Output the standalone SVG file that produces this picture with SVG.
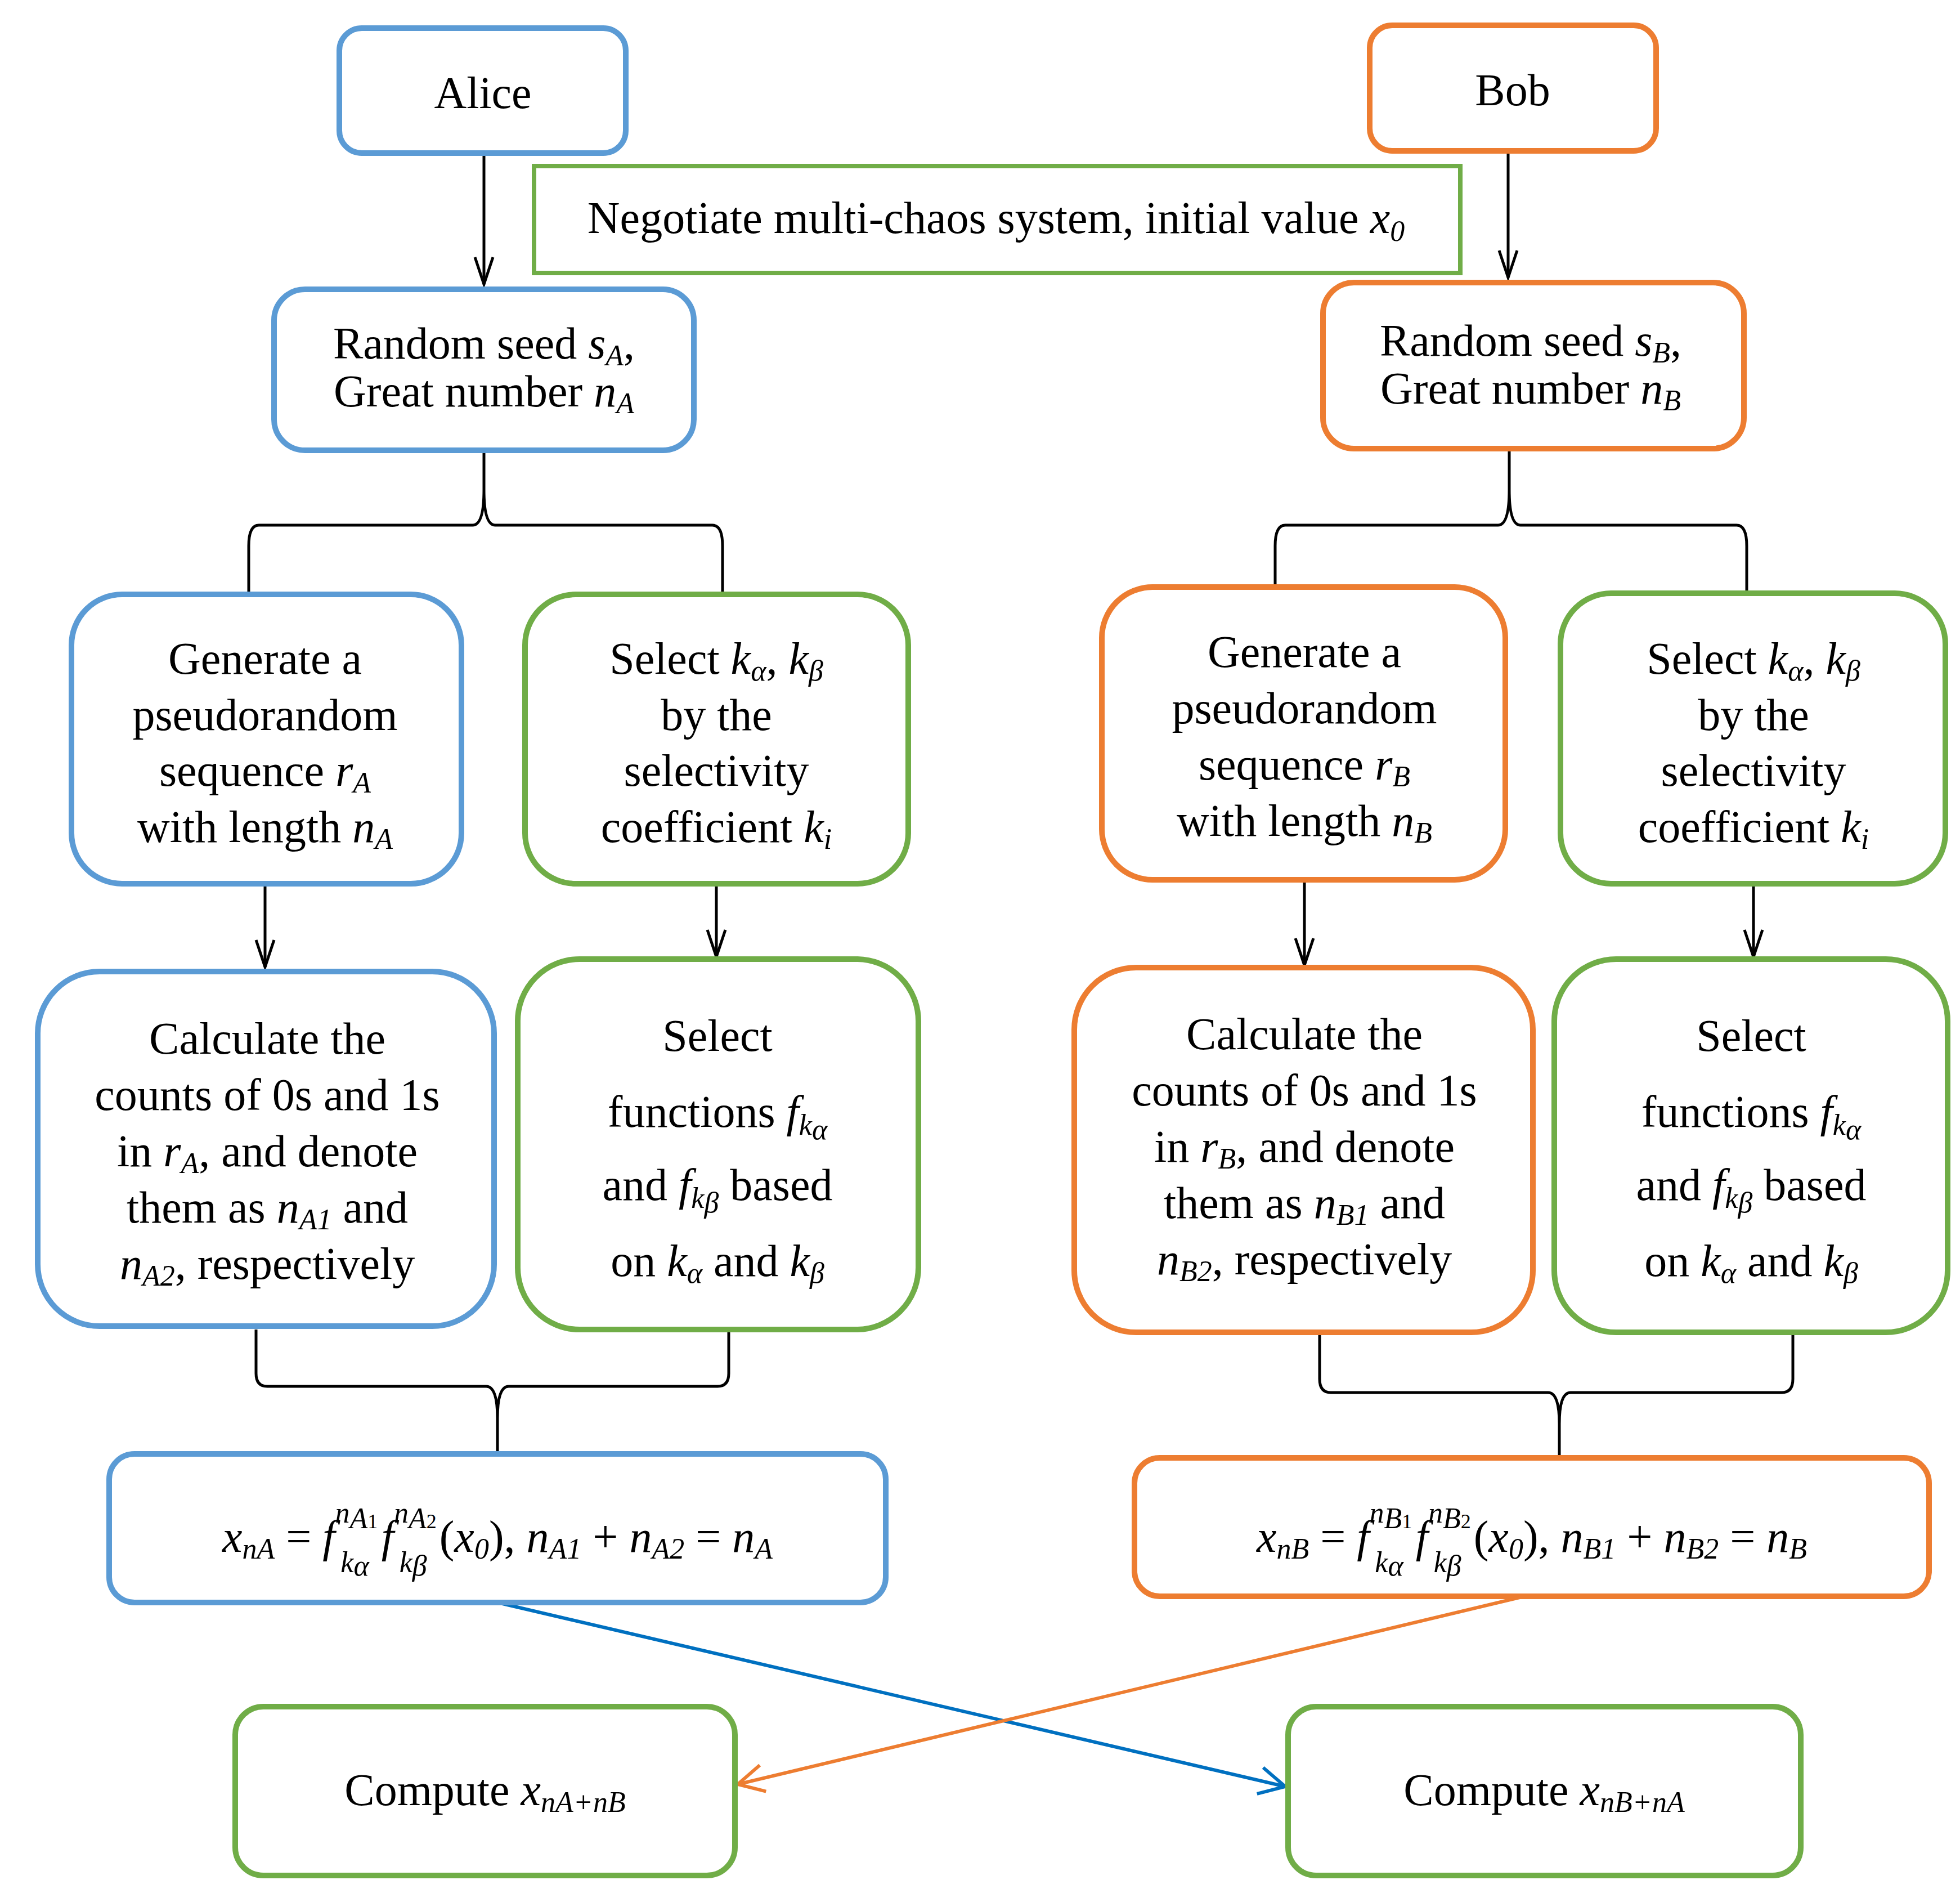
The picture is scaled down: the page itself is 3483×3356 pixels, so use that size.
<svg xmlns="http://www.w3.org/2000/svg" width="3483" height="3356" viewBox="0 0 3483 3356">
<style>
.b{fill:#fff;stroke:#5B9BD5;stroke-width:10}
.o{fill:#fff;stroke:#ED7D31;stroke-width:10}
.g{fill:#fff;stroke:#70AD47;stroke-width:10}
text{font-family:"Liberation Serif","DejaVu Serif",serif;font-size:80px;fill:#000;text-anchor:middle}
.i{font-style:italic}
.s{font-size:52px;font-style:italic}
.c{fill:none;stroke:#000;stroke-width:5}
</style>
<defs>
<marker id="ak" markerWidth="60" markerHeight="60" refX="30" refY="56" orient="0" markerUnits="userSpaceOnUse"><path d="M14 8 L30 56 L46 8" fill="none" stroke="#000" stroke-width="5"/></marker>
<marker id="ab" markerWidth="60" markerHeight="60" refX="50" refY="30" orient="auto" markerUnits="userSpaceOnUse"><path d="M4 6 L50 30 L4 54" fill="none" stroke="#0070C0" stroke-width="6"/></marker>
<marker id="ao" markerWidth="60" markerHeight="60" refX="50" refY="30" orient="auto" markerUnits="userSpaceOnUse"><path d="M4 6 L50 30 L4 54" fill="none" stroke="#ED7D31" stroke-width="6"/></marker>
</defs>
<g id="connectors">
<path class="c" d="M860 272 V505" marker-end="url(#ak)"/>
<path class="c" d="M2680 268 V493" marker-end="url(#ak)"/>
<path class="c" d="M471 1570 V1718" marker-end="url(#ak)"/>
<path class="c" d="M1273 1570 V1700" marker-end="url(#ak)"/>
<path class="c" d="M2318 1563 V1715" marker-end="url(#ak)"/>
<path class="c" d="M3116 1570 V1700" marker-end="url(#ak)"/>
<path class="c" d="M860 800 V870 Q860 933 840 933 H460 Q442 933 442 970 V1052 M860 870 Q860 933 880 933 H1266 Q1284 933 1284 970 V1052"/>
<path class="c" d="M2682 797 V870 Q2682 933 2662 933 H2284 Q2266 933 2266 970 V1043 M2682 870 Q2682 933 2702 933 H3086 Q3104 933 3104 970 V1054"/>
<path class="c" d="M455 2362 V2440 Q455 2463 475 2463 H864 Q884 2463 884 2520 V2583 M884 2520 Q884 2463 904 2463 H1275 Q1295 2463 1295 2440 V2362"/>
<path class="c" d="M2345 2367 V2450 Q2345 2474 2365 2474 H2751 Q2771 2474 2771 2530 V2590 M2771 2530 Q2771 2474 2791 2474 H3166 Q3186 2474 3186 2450 V2367"/>
<path d="M884 2847 L2284 3174" fill="none" stroke="#0070C0" stroke-width="6" marker-end="url(#ab)"/>
<path d="M2709 2836 L1311 3170" fill="none" stroke="#ED7D31" stroke-width="6" marker-end="url(#ao)"/>
</g>
<g id="alice"><rect class="b" x="603" y="50" width="509" height="222" rx="40"/><text x="858" y="192">Alice</text></g>
<g id="bob"><rect class="o" x="2434" y="45" width="509" height="223" rx="40"/><text x="2688" y="187">Bob</text></g>
<g id="negotiate"><rect x="949" y="295" width="1646" height="190" fill="#fff" stroke="#70AD47" stroke-width="8"/><text x="1770" y="414">Negotiate multi-chaos system, initial value  <tspan class="i">x</tspan><tspan class="s" font-style="normal" dy="14">0</tspan></text></g>
<g id="seedA"><rect class="b" x="487" y="514" width="746" height="286" rx="55"/>
<text x="860" y="637">Random seed  <tspan class="i">s</tspan><tspan class="s" dy="12">A</tspan><tspan dy="-12">,</tspan></text>
<text x="860" y="722">Great number  <tspan class="i">n</tspan><tspan class="s" dy="12">A</tspan></text></g>
<g id="seedB"><rect class="o" x="2351" y="502" width="748" height="295" rx="55"/>
<text x="2720" y="632">Random seed <tspan class="i">s</tspan><tspan class="s" dy="12">B</tspan><tspan dy="-12">,</tspan></text>
<text x="2720" y="717">Great number  <tspan class="i">n</tspan><tspan class="s" dy="12">B</tspan></text></g>
<g id="genA"><rect class="b" x="127" y="1056" width="693" height="514" rx="90"/>
<text x="471" y="1197">Generate a</text><text x="471" y="1297">pseudorandom</text>
<text x="471" y="1396">sequence <tspan class="i">r</tspan><tspan class="s" dy="12">A</tspan></text>
<text x="471" y="1496">with length  <tspan class="i">n</tspan><tspan class="s" dy="12">A</tspan></text></g>
<g id="selA"><rect class="g" x="933" y="1056" width="681" height="514" rx="90"/>
<text x="1273" y="1197">Select  <tspan class="i">k</tspan><tspan class="s" dy="12">α</tspan><tspan dy="-12">,  </tspan><tspan class="i">k</tspan><tspan class="s" dy="12">β</tspan></text>
<text x="1273" y="1297">by the</text><text x="1273" y="1396">selectivity</text>
<text x="1273" y="1496">coefficient  <tspan class="i">k</tspan><tspan class="s" dy="12">i</tspan></text></g>
<g id="genB"><rect class="o" x="1958" y="1043" width="717" height="520" rx="90"/>
<text x="2318" y="1185">Generate a</text><text x="2318" y="1285">pseudorandom</text>
<text x="2318" y="1385">sequence <tspan class="i">r</tspan><tspan class="s" dy="12">B</tspan></text>
<text x="2318" y="1485">with length  <tspan class="i">n</tspan><tspan class="s" dy="12">B</tspan></text></g>
<g id="selB"><rect class="g" x="2773" y="1054" width="684" height="516" rx="90"/>
<text x="3116" y="1197">Select  <tspan class="i">k</tspan><tspan class="s" dy="12">α</tspan><tspan dy="-12">,  </tspan><tspan class="i">k</tspan><tspan class="s" dy="12">β</tspan></text>
<text x="3116" y="1297">by the</text><text x="3116" y="1396">selectivity</text>
<text x="3116" y="1496">coefficient  <tspan class="i">k</tspan><tspan class="s" dy="12">i</tspan></text></g>
<g id="calcA"><rect class="b" x="67" y="1726" width="811" height="630" rx="110"/>
<text x="475" y="1872">Calculate the</text><text x="475" y="1972">counts of 0s and 1s</text>
<text x="475" y="2072">in  <tspan class="i">r</tspan><tspan class="s" dy="12">A</tspan><tspan dy="-12">, and denote</tspan></text>
<text x="475" y="2172">them as  <tspan class="i">n</tspan><tspan class="s" dy="12">A1</tspan><tspan dy="-12">  and</tspan></text>
<text x="475" y="2272"><tspan class="i">n</tspan><tspan class="s" dy="12">A2</tspan><tspan dy="-12">, respectively</tspan></text></g>
<g id="fnA"><rect class="g" x="920" y="1704" width="712" height="658" rx="110"/>
<text x="1275" y="1867">Select</text>
<text x="1275" y="2002">functions  <tspan class="i">f</tspan><tspan class="s" dy="14">k</tspan><tspan class="s" font-size="38" dy="8">α</tspan></text>
<text x="1275" y="2132">and  <tspan class="i">f</tspan><tspan class="s" dy="14">k</tspan><tspan class="s" font-size="38" dy="8">β</tspan><tspan dy="-22">  based</tspan></text>
<text x="1275" y="2267">on  <tspan class="i">k</tspan><tspan class="s" dy="12">α</tspan><tspan dy="-12">  and  </tspan><tspan class="i">k</tspan><tspan class="s" dy="12">β</tspan></text></g>
<g id="calcB"><rect class="o" x="1909" y="1719" width="815" height="648" rx="110"/>
<text x="2318" y="1864">Calculate the</text><text x="2318" y="1964">counts of 0s and 1s</text>
<text x="2318" y="2064">in  <tspan class="i">r</tspan><tspan class="s" dy="12">B</tspan><tspan dy="-12">, and denote</tspan></text>
<text x="2318" y="2164">them as  <tspan class="i">n</tspan><tspan class="s" dy="12">B1</tspan><tspan dy="-12">  and</tspan></text>
<text x="2318" y="2264"><tspan class="i">n</tspan><tspan class="s" dy="12">B2</tspan><tspan dy="-12">, respectively</tspan></text></g>
<g id="fnB"><rect class="g" x="2762" y="1704" width="699" height="663" rx="110"/>
<text x="3112" y="1867">Select</text>
<text x="3112" y="2002">functions  <tspan class="i">f</tspan><tspan class="s" dy="14">k</tspan><tspan class="s" font-size="38" dy="8">α</tspan></text>
<text x="3112" y="2132">and  <tspan class="i">f</tspan><tspan class="s" dy="14">k</tspan><tspan class="s" font-size="38" dy="8">β</tspan><tspan dy="-22">  based</tspan></text>
<text x="3112" y="2267">on  <tspan class="i">k</tspan><tspan class="s" dy="12">α</tspan><tspan dy="-12">  and  </tspan><tspan class="i">k</tspan><tspan class="s" dy="12">β</tspan></text></g>
<g id="formA"><rect class="b" x="194" y="2583" width="1380" height="264" rx="45"/>
<text x="884" y="2757"><tspan class="i">x</tspan><tspan class="s" dy="12">nA</tspan><tspan dy="-12"> = </tspan><tspan class="i">f</tspan><tspan class="s" dy="-52">n</tspan><tspan class="s" font-size="36" dy="10">A</tspan><tspan font-size="36">1</tspan><tspan class="s" dx="-66" dy="78">k</tspan><tspan class="s" font-size="36" dy="6">α</tspan><tspan class="i" dx="22" dy="-42">f</tspan><tspan class="s" dy="-52">n</tspan><tspan class="s" font-size="36" dy="10">A</tspan><tspan font-size="36">2</tspan><tspan class="s" dx="-66" dy="78">k</tspan><tspan class="s" font-size="36" dy="6">β</tspan><tspan dx="22" dy="-42">(</tspan><tspan class="i">x</tspan><tspan class="s" font-style="normal" dy="12">0</tspan><tspan dy="-12">),   </tspan><tspan class="i">n</tspan><tspan class="s" dy="12">A1</tspan><tspan dy="-12"> + </tspan><tspan class="i">n</tspan><tspan class="s" dy="12">A2</tspan><tspan dy="-12"> = </tspan><tspan class="i">n</tspan><tspan class="s" dy="12">A</tspan></text></g>
<g id="formB"><rect class="o" x="2016" y="2590" width="1412" height="246" rx="45"/>
<text x="2722" y="2757"><tspan class="i">x</tspan><tspan class="s" dy="12">nB</tspan><tspan dy="-12"> = </tspan><tspan class="i">f</tspan><tspan class="s" dy="-52">n</tspan><tspan class="s" font-size="36" dy="10">B</tspan><tspan font-size="36">1</tspan><tspan class="s" dx="-66" dy="78">k</tspan><tspan class="s" font-size="36" dy="6">α</tspan><tspan class="i" dx="22" dy="-42">f</tspan><tspan class="s" dy="-52">n</tspan><tspan class="s" font-size="36" dy="10">B</tspan><tspan font-size="36">2</tspan><tspan class="s" dx="-66" dy="78">k</tspan><tspan class="s" font-size="36" dy="6">β</tspan><tspan dx="22" dy="-42">(</tspan><tspan class="i">x</tspan><tspan class="s" font-style="normal" dy="12">0</tspan><tspan dy="-12">),   </tspan><tspan class="i">n</tspan><tspan class="s" dy="12">B1</tspan><tspan dy="-12"> + </tspan><tspan class="i">n</tspan><tspan class="s" dy="12">B2</tspan><tspan dy="-12"> = </tspan><tspan class="i">n</tspan><tspan class="s" dy="12">B</tspan></text></g>
<g id="computeA"><rect class="g" x="418" y="3032" width="888" height="300" rx="50"/>
<text x="862" y="3207">Compute  <tspan class="i">x</tspan><tspan class="s" dy="12">nA+nB</tspan></text></g>
<g id="computeB"><rect class="g" x="2289" y="3032" width="911" height="300" rx="50"/>
<text x="2744" y="3207">Compute  <tspan class="i">x</tspan><tspan class="s" dy="12">nB+nA</tspan></text></g>
</svg>
